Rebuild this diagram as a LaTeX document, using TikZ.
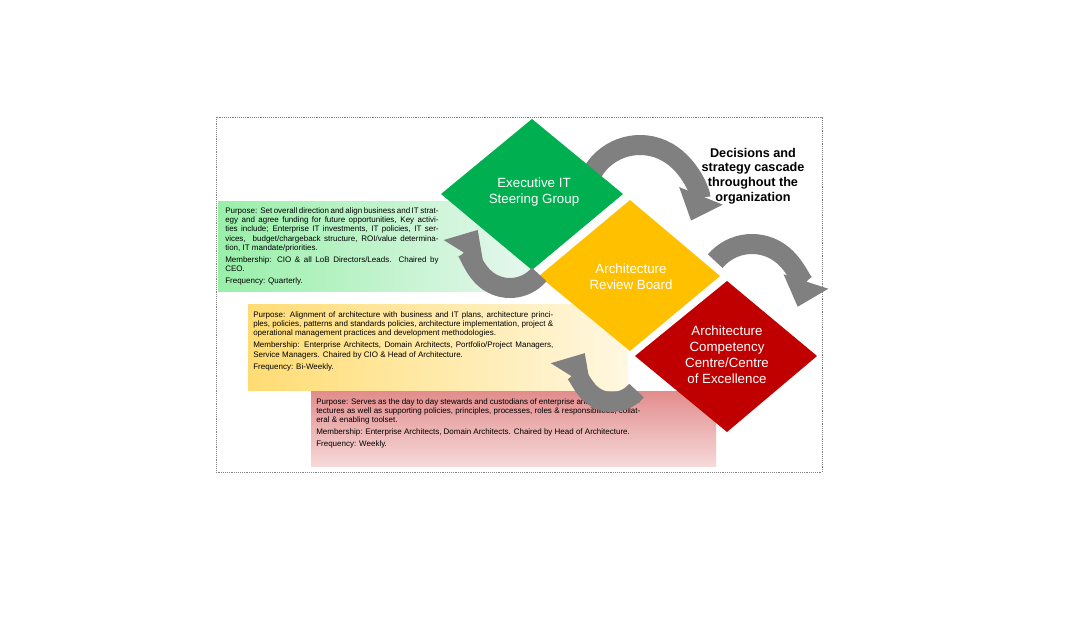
\documentclass[tikz,border=0pt]{standalone}
\usepackage{fontspec}
\setmainfont{Liberation Sans}
\usetikzlibrary{arrows.meta}
\definecolor{dgreen}{HTML}{00B050}
\definecolor{dyellow}{HTML}{FFC000}
\definecolor{dred}{HTML}{C00000}
\definecolor{agrey}{HTML}{808080}
\tikzset{
 dia/.style={draw=none,shape=diamond},
 boxtxt/.style={align=justify,font=\fontsize{6}{7}\selectfont,inner sep=0pt,anchor=north west},
 diatxt/.style={text=white,align=center,font=\fontsize{10}{12}\selectfont},
 garrow/.style={draw=agrey,line width=15pt,-{Triangle[width=34pt,length=20pt]}},
 garrowb/.style={draw=agrey,line width=15pt,-{Triangle[width=34pt,length=20pt]}},
}
\begin{document}
\begin{tikzpicture}[x=0.75pt,y=-0.75pt]
\useasboundingbox (0,0) rectangle (1070,638);
\draw[densely dotted,gray] (216,117) rectangle (822,472);
% boxes
\shade[left color=green!50!dgreen!40, right color=dgreen!10] (218,201) rectangle (530,291);
\shade[left color=dyellow!55, right color=dyellow!12] (248,304) rectangle (628,390);
\shade[top color=dred!45, bottom color=dred!15] (311,391) rectangle (716,466);
\node[boxtxt,text width=160pt] (gt) at (225,207) {Purpose:\ \ Set overall direction and align business and IT strategy and agree funding for future opportunities, Key activities include; Enterprise IT investments, IT policies, IT services,\ \ budget/chargeback structure, ROI/value determination, IT mandate/priorities.\par\vspace{2pt}Membership: CIO \& all LoB Directors/Leads. Chaired by CEO.\par\vspace{2pt}Frequency: Quarterly.};
\node[boxtxt,text width=225pt] (yt) at (253,311) {Purpose: Alignment of architecture with business and IT plans, architecture principles, policies, patterns and standards policies, architecture implementation, project \& operational management practices and development methodologies.\par\vspace{2pt}Membership: Enterprise Architects, Domain Architects, Portfolio/Project Managers, Service Managers. Chaired by CIO \& Head of Architecture.\par\vspace{2pt}Frequency: Bi-Weekly.};
\node[boxtxt,text width=243pt] (rt) at (316,398) {Purpose: Serves as the day to day stewards and custodians of enterprise and domain architectures as well as supporting policies, principles, processes, roles \& responsibilities, collateral \& enabling toolset.\par\vspace{2pt}Membership: Enterprise Architects, Domain Architects. Chaired by Head of Architecture.\par\vspace{2pt}Frequency: Weekly.};
% back arrows
\draw[garrow] (640,200) ++(-150:55) arc[start angle=-150,end angle=22,radius=55];
\draw[garrow] (752,292) ++(-140:48) arc[start angle=-140,end angle=18,radius=48];
% diamonds
\fill[dgreen] (532,119) -- (623,194) -- (532,270) -- (441,194) -- cycle;
\node[diatxt] (eg) at (534,192) {Executive IT\\Steering Group};
\fill[dyellow] (630,200) -- (720,276) -- (630,351) -- (539,276) -- cycle;
\node[diatxt] (ar) at (631,277) {Architecture\\Review Board};
\fill[dred] (727,281) -- (817,356) -- (727,432) -- (635,356) -- cycle;
\node[diatxt] (ac) at (727,355) {Architecture\\Competency\\Centre/Centre\\of Excellence};
% front arrows
\draw[garrowb] (510,250) ++(40:38) arc[start angle=40,end angle=212,radius=38];
\draw[garrowb] (612,370) ++(40:32) arc[start angle=40,end angle=212,radius=32];
\node[align=center,font=\bfseries\fontsize{9.5}{11}\selectfont] (dec) at (753,176) {Decisions and\\strategy cascade\\throughout the\\organization};
\end{tikzpicture}
\end{document}
